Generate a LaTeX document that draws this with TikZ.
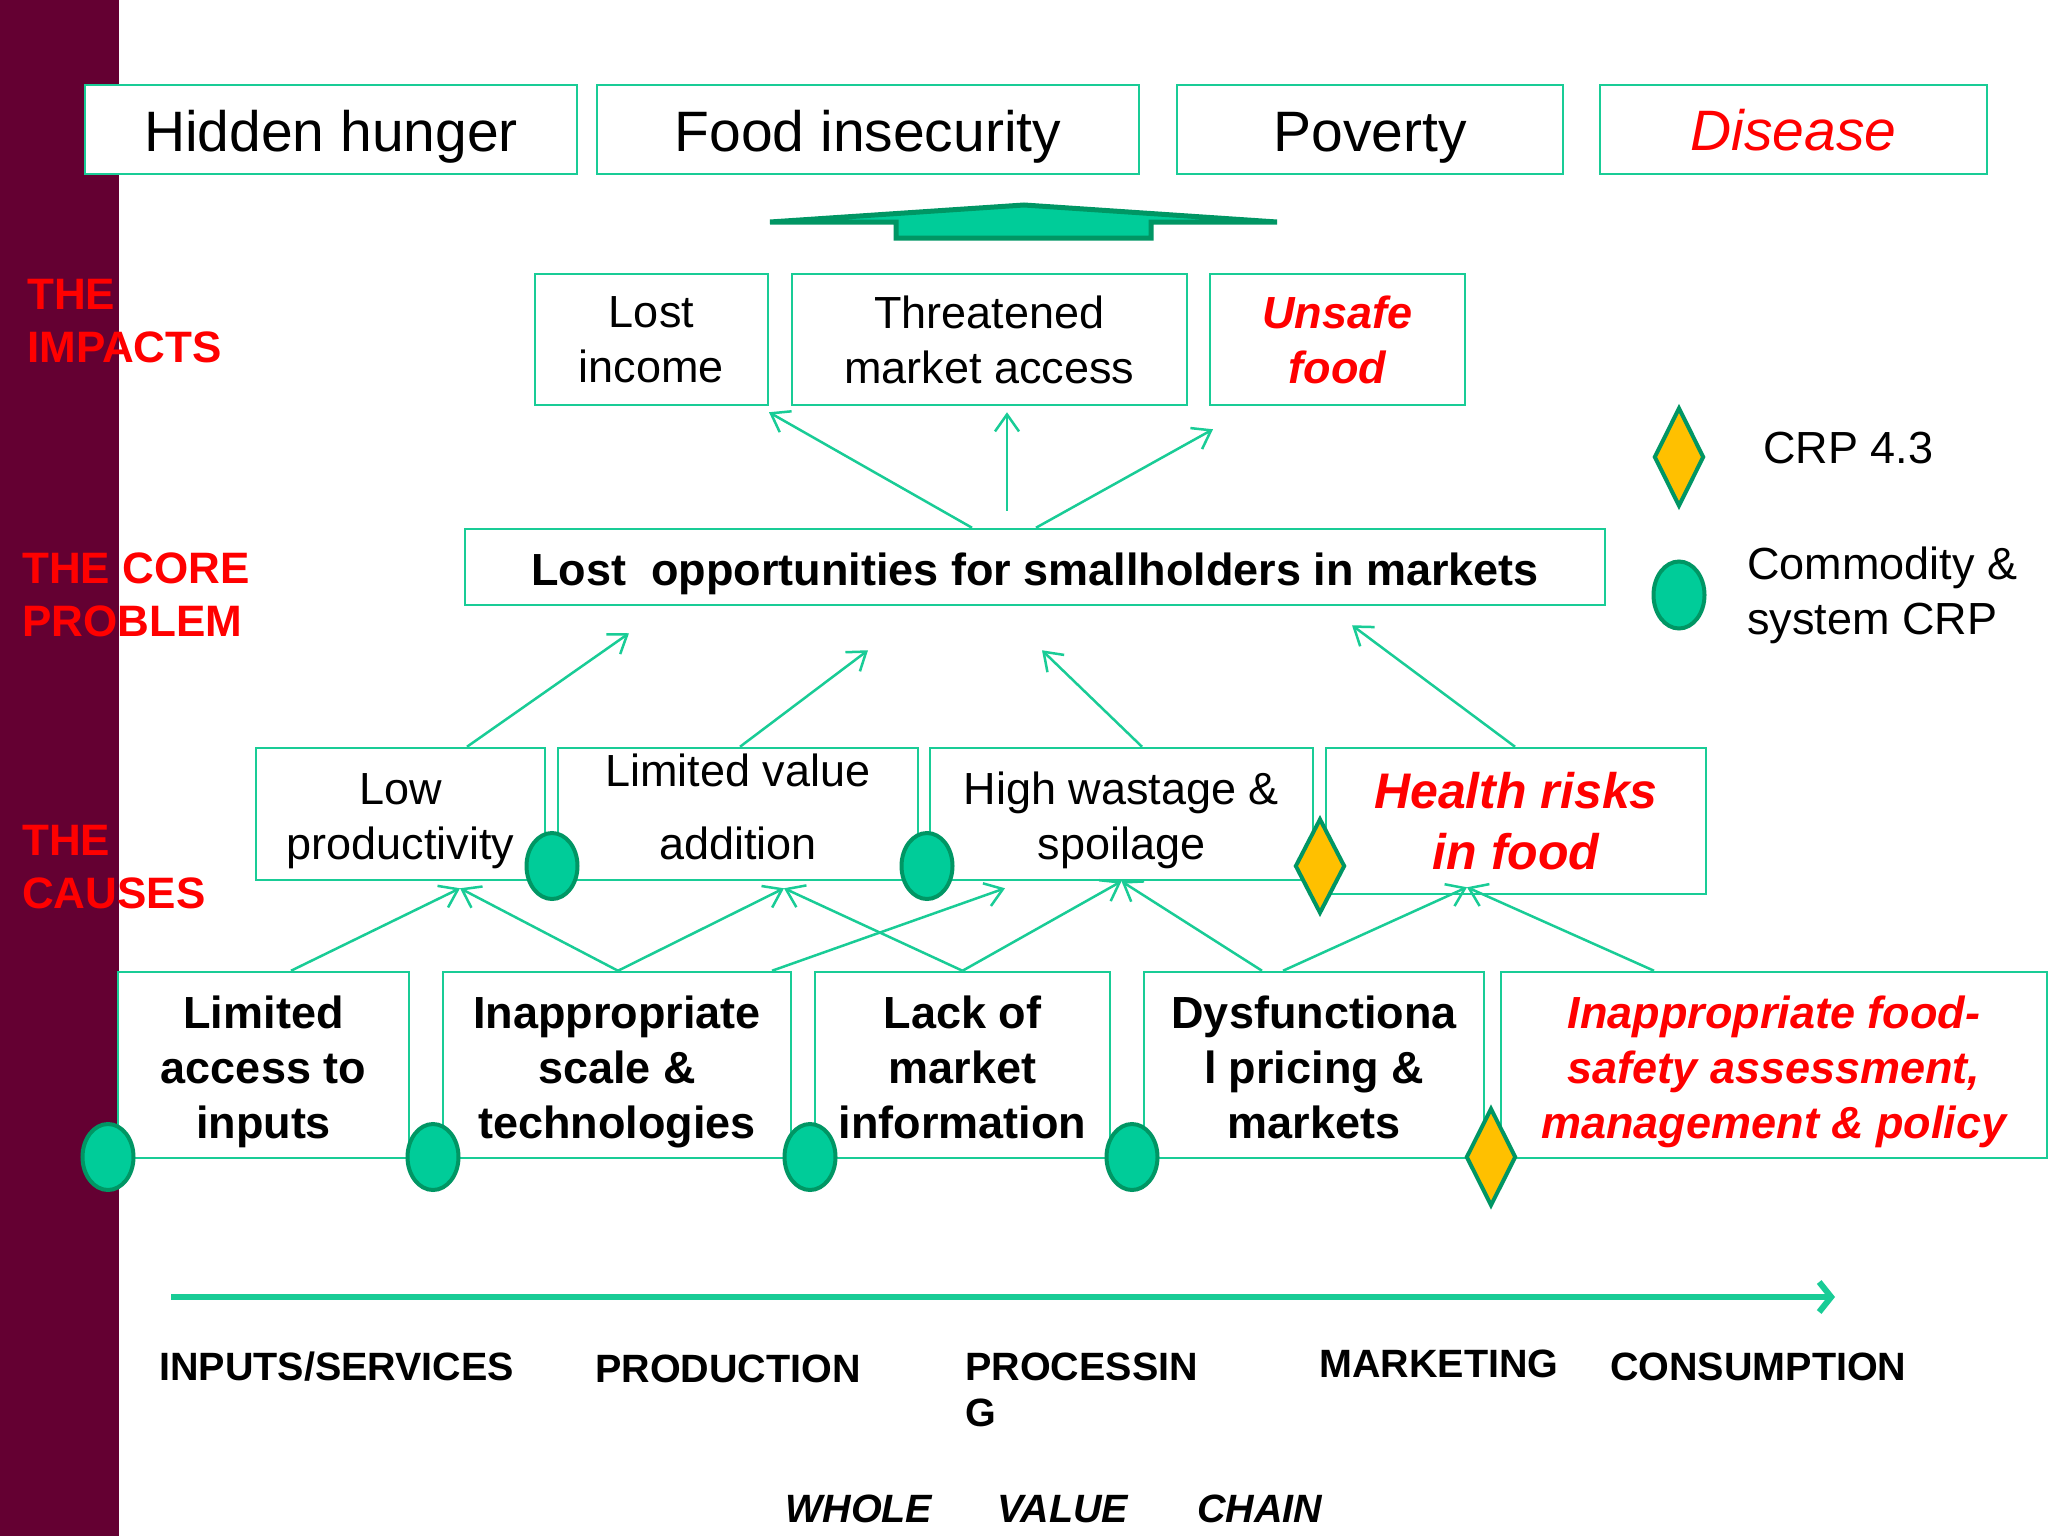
\documentclass[tikz,border=0pt]{standalone}
\usepackage{fontspec}
\setmainfont{Liberation Sans}
\usetikzlibrary{shapes.geometric,arrows.meta}
\definecolor{barmaroon}{RGB}{100,0,50}
\definecolor{linegreen}{RGB}{25,204,150}
\definecolor{dotgreen}{RGB}{0,204,153}
\definecolor{edgegreen}{RGB}{0,150,100}
\definecolor{crpgold}{RGB}{255,192,0}

\begin{document}
\begin{tikzpicture}[x=1pt,y=-1pt,
    box/.style={draw=linegreen, line width=2.5pt, fill=white, inner sep=0pt, align=center},
    toprow/.style={box, minimum height=89pt, text height=55pt, font=\fontsize{57}{68}\selectfont},
    impact/.style={box, minimum height=131pt, font=\fontsize{45}{55}\selectfont},
    cause/.style={box, minimum height=132pt, text height=91.4pt, text depth=0pt, font=\fontsize{45}{55}\selectfont},
    rootcause/.style={box, minimum height=186pt, text height=146.6pt, text depth=0pt, font=\fontsize{45}{55}\selectfont\bfseries},
    link/.style={draw=linegreen, line width=2.5pt, -{Straight Barb[length=17pt,width=24pt]}},
    crpdot/.style={ellipse, draw=edgegreen, fill=dotgreen, line width=4pt, minimum width=51pt, minimum height=66pt, inner sep=0pt},
    crpgem/.style={diamond, draw=edgegreen, fill=crpgold, line width=4pt, minimum width=50pt, minimum height=98pt, inner sep=0pt},
    sidelabel/.style={anchor=west, align=left, text=red, inner sep=0pt, font=\fontsize{44}{53}\selectfont\bfseries},
    stagelabel/.style={anchor=base west, inner sep=0pt, font=\fontsize{39.5}{46}\selectfont\bfseries}]
    \useasboundingbox (0,0) rectangle (2048,1536);
    \fill[white] (0,0) rectangle (2048,1536);
    \fill[barmaroon] (0,0) rectangle (119,1536);

    % side labels
    \node[sidelabel] (impactlbl) at (27,321) {THE\\IMPACTS};
    \node[sidelabel] (corelbl) at (22,595) {THE CORE\\PROBLEM};
    \node[sidelabel] (causelbl) at (22,867) {THE\\CAUSES};

    % top row
    \node[toprow, minimum width=492pt] (hidden) at (331,129.5) {Hidden hunger};
    \node[toprow, minimum width=542pt] (insecurity) at (868,129.5) {Food insecurity};
    \node[toprow, minimum width=386pt] (poverty) at (1370,129.5) {Poverty};
    \node[toprow, minimum width=387pt, text height=43pt, text=red, font=\fontsize{57}{68}\selectfont\itshape] (disease) at (1793.5,129.5) {Disease};
    \filldraw[fill=dotgreen, draw=edgegreen, line width=5pt] (770,222) -- (1024,205) -- (1277,222) -- (1151,222)
        -- (1151,238) -- (896,238) -- (896,222) -- cycle;

    % impacts
    \node[impact, minimum width=233pt] (lost) at (651.5,339.5) {Lost\\income};
    \node[impact, minimum width=395pt] (threat) at (989.5,339.5) {Threatened\\market access};
    \node[impact, minimum width=255pt, text=red, font=\fontsize{45}{55}\selectfont\bfseries\itshape] (unsafe) at (1337.5,339.5) {Unsafe\\food};

    % core problem
    \node[box, minimum width=1140pt, minimum height=76pt, text height=46pt, font=\fontsize{45}{55}\selectfont\bfseries] (core) at (1035,567) {Lost\ \ opportunities for smallholders in markets};

    % causes
    \node[cause, minimum width=289pt] (lowprod) at (400.5,814) {Low\\productivity};
    \node[cause, minimum width=360pt, font=\fontsize{45}{73}\selectfont] (valadd) at (738,814) {Limited value\\addition};
    \node[cause, minimum width=383pt] (wastage) at (1121.5,814) {High wastage \&\\spoilage};
    \node[box, minimum width=380pt, minimum height=146pt, text=red, font=\fontsize{50}{61}\selectfont\bfseries\itshape] (health) at (1516,821) {Health risks\\in food};

    % root causes
    \node[rootcause, minimum width=291pt] (limacc) at (263.5,1065) {Limited\\access to\\inputs};
    \node[rootcause, minimum width=348pt] (scale) at (617,1065) {Inappropriate\\scale \&\\technologies};
    \node[rootcause, minimum width=295pt] (marketinfo) at (962.5,1065) {Lack of\\market\\information};
    \node[rootcause, minimum width=340pt] (pricing) at (1314,1065) {Dysfunctiona\\l pricing \&\\markets};
    \node[rootcause, minimum width=546pt, text=red, font=\fontsize{45}{55}\selectfont\bfseries\itshape] (foodsafety) at (1774,1065) {Inappropriate food-\\safety assessment,\\management \& policy};

    % links to impacts
    \draw[link] ([xshift=-63pt]core.north) -- ([xshift=117.5pt,yshift=-6pt]lost.south);
    \draw[link] ([xshift=-28pt,yshift=17pt]core.north) -- ([xshift=17.5pt,yshift=-6pt]threat.south);
    \draw[link] ([xshift=1pt]core.north) -- ([xshift=-124.5pt,yshift=-23pt]unsafe.south);

    % links to core problem
    \draw[link] ([xshift=66.5pt]lowprod.north) -- ([xshift=-406pt,yshift=-27pt]core.south);
    \draw[link] ([xshift=2pt]valadd.north) -- ([xshift=-167pt,yshift=-44pt]core.south);
    \draw[link] ([xshift=20.5pt]wastage.north) -- ([xshift=7pt,yshift=-44pt]core.south);
    \draw[link] ([xshift=-1pt]health.north) -- ([xshift=317pt,yshift=-19pt]core.south);

    % links to causes
    \draw[link] ([xshift=27.5pt]limacc.north) -- ([xshift=59.5pt,yshift=-7pt]lowprod.south);
    \draw[link] ([xshift=1pt]scale.north) -- ([xshift=59.5pt,yshift=-7pt]lowprod.south);
    \draw[link] ([xshift=1pt]scale.north) -- ([xshift=46pt,yshift=-7pt]valadd.south);
    \draw[link] ([xshift=155pt]scale.north) -- ([xshift=-116.5pt,yshift=-7pt]wastage.south);
    \draw[link] (marketinfo.north) -- ([xshift=46pt,yshift=-7pt]valadd.south);
    \draw[link] (marketinfo.north) -- (wastage.south);
    \draw[link] ([xshift=-52pt]pricing.north) -- (wastage.south);
    \draw[link] ([xshift=-31pt]pricing.north) -- ([xshift=-49pt,yshift=8pt]health.south);
    \draw[link] ([xshift=-120pt]foodsafety.north) -- ([xshift=-49pt,yshift=8pt]health.south);

    % CRP markers
    \node[crpdot] (dotA) at (552,866) {};
    \node[crpdot] (dotB) at (927,866) {};
    \node[crpgem, minimum height=95pt] (gemA) at (1320,866) {};
    \node[crpdot] (dotC) at (108,1157) {};
    \node[crpdot] (dotD) at (433,1157) {};
    \node[crpdot] (dotE) at (810,1157) {};
    \node[crpdot] (dotF) at (1132,1157) {};
    \node[crpgem] (gemB) at (1491,1157) {};

    % legend
    \node[crpgem, minimum height=99pt] (gemkey) at (1679,457) {};
    \node[anchor=base west, inner sep=0pt, font=\fontsize{45}{55}\selectfont] (gemtext) at (1763,463) {CRP 4.3};
    \node[crpdot, minimum height=67pt] (dotkey) at (1679,595) {};
    \node[anchor=west, align=left, inner sep=0pt, font=\fontsize{45}{55}\selectfont] (dottext) at (1747,595) {Commodity \&\\system CRP};

    % value chain
    \coordinate (flowstart) at (171,1297);
    \coordinate (flowend) at (1835,1297);
    \draw[draw=linegreen, line width=6pt, -{Straight Barb[length=12pt,width=30pt]}] (flowstart) -- (flowend);
    \node[stagelabel] (inputs) at (159,1380) {INPUTS/SERVICES};
    \node[stagelabel] (production) at (595,1382) {PRODUCTION};
    \node[stagelabel, anchor=north west, align=left] (processing) at (965,1353) {PROCESSIN\\G};
    \node[stagelabel] (marketing) at (1319,1377) {MARKETING};
    \node[stagelabel] (consumption) at (1610,1380) {CONSUMPTION};
    \node[stagelabel, font=\fontsize{39.5}{46}\selectfont\bfseries\itshape] (whole) at (785,1522) {WHOLE};
    \node[stagelabel, font=\fontsize{39.5}{46}\selectfont\bfseries\itshape] (value) at (997,1522) {VALUE};
    \node[stagelabel, font=\fontsize{39.5}{46}\selectfont\bfseries\itshape] (chain) at (1197,1522) {CHAIN};
\end{tikzpicture}
\end{document}
